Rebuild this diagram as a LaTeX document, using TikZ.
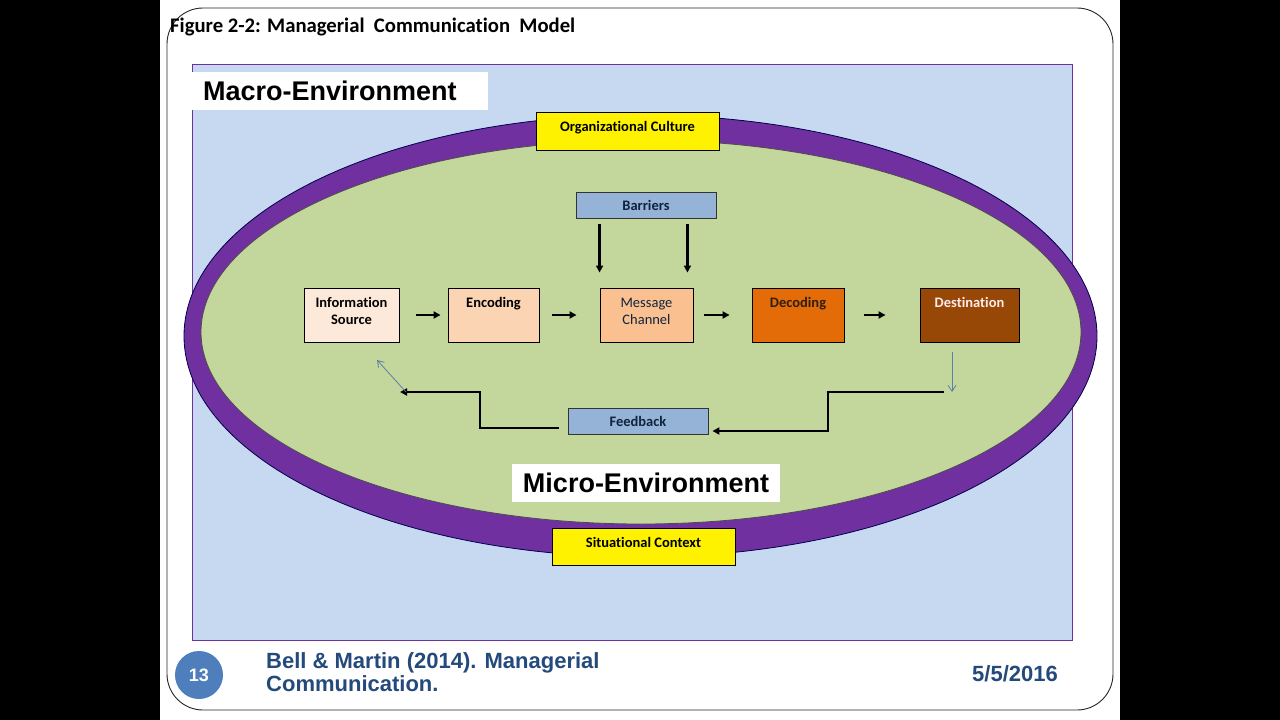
\documentclass[tikz,border=0pt]{standalone}
\usepackage{fontspec}
\setmainfont[Ligatures=NoCommon]{Carlito}
\newfontfamily\arialf{Liberation Sans}
\usetikzlibrary{arrows.meta,calc}
\definecolor{macrobg}{HTML}{C6D9F1}
\definecolor{ringpurple}{HTML}{7030A0}
\definecolor{microgreen}{HTML}{C3D69B}
\definecolor{barblue}{HTML}{95B3D7}
\definecolor{infofill}{HTML}{FDE9D9}
\definecolor{encfill}{HTML}{FBD4B4}
\definecolor{msgfill}{HTML}{FAC090}
\definecolor{decfill}{HTML}{E36C09}
\definecolor{destfill}{HTML}{974806}
\definecolor{navytext}{HTML}{0F243E}
\definecolor{foottext}{HTML}{244A7C}
\definecolor{circblue}{HTML}{4F7EBD}
\definecolor{thinblue}{HTML}{5A80A8}
\newcommand{\stk}[1]{\begin{tabular}[t]{@{}c@{}}#1\end{tabular}}
\tikzset{
  stagebox/.style={draw=black, line width=0.9pt, inner sep=0pt, minimum height=54pt,
    text depth=26pt, font=\fontsize{14.5}{17}\selectfont\bfseries, text=black},
  labelbox/.style={draw=black!80, line width=0.9pt, inner sep=0pt, minimum width=140pt,
    minimum height=26pt, fill=barblue, font=\fontsize{14.5}{17}\selectfont\bfseries, text=navytext},
  yellowbox/.style={draw=black, line width=0.9pt, fill=yellow, inner sep=0pt, minimum width=183pt,
    minimum height=37pt, text height=10pt, text depth=9pt,
    font=\fontsize{14.5}{17}\selectfont\bfseries, text=black},
  envlabel/.style={fill=white, inner sep=0pt, minimum height=38pt,
    font=\arialf\fontsize{27}{30}\selectfont\bfseries, text=black},
  flowarrow/.style={line width=2.2pt, -{Triangle[length=7pt,width=7pt]}},
  fbline/.style={line width=2.4pt},
  thinarrow/.style={draw=thinblue, line width=0.8pt, -{Straight Barb[length=6pt,width=8pt]}}
}
\begin{document}
\begin{tikzpicture}[x=1pt,y=-1pt]
\useasboundingbox (0,0) rectangle (1280,720);
% backdrop
\fill[black] (0,0) rectangle (1280,720);
\fill[white] (160,0) rectangle (1120,720);
\draw[black!85, line width=0.9pt, rounded corners=36pt] (167,8) rectangle (1113,710);
% title
\node[anchor=base west, inner sep=0pt, font=\fontsize{20.7}{24}\selectfont\bfseries]
  (title) at (170,32) {Figure 2-2: Managerial\ \ Communication\ \ Model};
% macro environment
\draw[draw=ringpurple, fill=macrobg, line width=1pt] (192,64) rectangle (1072,640);
\node[envlabel, anchor=west, minimum width=296pt, text width=274pt, align=left, inner xsep=11pt]
  (macro) at (192,91) {Macro-Environment};
% ellipses
\draw[fill=ringpurple, draw=black!70!blue, line width=0.8pt] (640.5,336) ellipse [x radius=456.5, y radius=221];
\draw[fill=microgreen, draw=black!70, line width=0.8pt] (641,332) ellipse [x radius=440, y radius=192];
% yellow boxes
\node[yellowbox, minimum height=38pt] (org) at (627.5,131) {Organizational Culture};
\node[yellowbox] (sit) at (643.5,546.5) {Situational Context};
% micro label
\node[envlabel, minimum width=268pt] (micro) at (646,483) {Micro-Environment};
% stages
\node[stagebox, fill=infofill, minimum width=95pt] (info) at (351.5,315) {\stk{Information\\Source}};
\node[stagebox, fill=encfill, minimum width=91pt] (enc) at (493.5,315) {\stk{Encoding\\\mbox{}}};
\node[stagebox, fill=msgfill, minimum width=93pt, font=\fontsize{14.5}{17}\selectfont, text=navytext] (msg) at (646.5,315) {\stk{Message\\Channel}};
\node[stagebox, fill=decfill, minimum width=92pt, text={black!60!brown!60!black}] (dec) at (798,315) {\stk{Decoding\\\mbox{}}};
\node[stagebox, fill=destfill, minimum width=99pt, text={white!92!red}] (dest) at (969.5,315) {\stk{Destination\\\mbox{}}};
% barriers / feedback
\node[labelbox] (bar) at (646,205) {Barriers};
\node[labelbox] (fb) at (638,421) {Feedback};
% forward arrows
\draw[flowarrow, shorten <=17pt, shorten >=7pt] (info) -- (enc);
\draw[flowarrow, shorten <=13pt, shorten >=23pt] (enc) -- (msg);
\draw[flowarrow, shorten <=11pt, shorten >=22pt] (msg) -- (dec);
\draw[flowarrow, shorten <=20pt, shorten >=34pt] (dec) -- (dest);
% barrier arrows
\draw[flowarrow, shorten <=6pt, shorten >=15pt] ([xshift=24pt]bar.south west) -- ([xshift=24pt]bar.south west |- msg.north);
\draw[flowarrow, shorten <=6pt, shorten >=15pt] ([xshift=-29pt]bar.south east) -- ([xshift=-29pt]bar.south east |- msg.north);
% feedback loop
\coordinate (r1) at (944,392);
\coordinate (d1) at (952,392);
\coordinate (l1) at (400,392);
\coordinate (l2) at (377,360);
\draw[thinarrow, shorten <=10pt] ([xshift=-17.5pt]dest.south) -- (d1);
\draw[fbline, -{Triangle[length=7pt,width=7pt]}, shorten >=4pt] (r1) -- (828,392) -- (828,431) -- ([yshift=-10pt]fb.east);
\draw[fbline, -{Triangle[length=7pt,width=7pt]}, shorten <=9pt] ([yshift=-7pt]fb.west) -- (480,428) -- (480,392) -- (l1);
\draw[thinarrow] ([xshift=6pt]l1) -- (l2);
% footer
\node[circle, fill=circblue, minimum size=48pt, inner sep=0pt, text=white,
  font=\arialf\fontsize{18}{20}\selectfont\bfseries] (num) at (199,675) {13};
\node[anchor=west, inner sep=0pt, align=left, text=foottext,
  font=\arialf\fontsize{22}{23}\selectfont\bfseries] (cite) at (266,672)
  {Bell \& Martin (2014). Managerial\\Communication.};
\node[anchor=west, inner sep=0pt, text=foottext,
  font=\arialf\fontsize{22}{23}\selectfont\bfseries] (date) at (972,674) {5/5/2016};
\end{tikzpicture}
\end{document}
